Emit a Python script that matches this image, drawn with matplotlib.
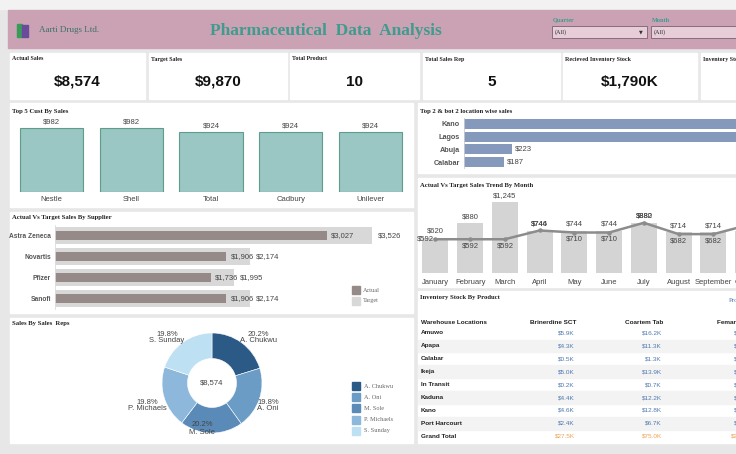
import matplotlib.pyplot as plt
from matplotlib.patches import Rectangle
import numpy as np

# KPI cards
kpi_titles = ['Actual Sales', 'Target Sales', 'Total Product', 'Total Sales Rep',
              'Recieved Inventory Stock', 'Inventory Stock']
kpi_values = ['$8,574', '$9,870', '10', '5', '$1,790K', '']

# Top 5 customers
cust_names = ['Nestle', 'Shell', 'Total', 'Cadbury', 'Unilever']
cust_sales = [982, 982, 924, 924, 924]

# Top 2 & bottom 2 locations
loc_names = ['Kano', 'Lagos', 'Abuja', 'Calabar']
loc_sales = [1540, 1520, 223, 187]

# Supplier actual vs target
suppliers = ['Astra Zeneca', 'Novartis', 'Pfizer', 'Sanofi']
supp_actual = [3027, 1906, 1736, 1906]
supp_target = [3526, 2174, 1995, 2174]

# Monthly trend
months = ['January', 'February', 'March', 'April', 'May', 'June', 'July',
          'August', 'September', 'October', 'November', 'December']
month_bar = [620, 880, 1245, 744, 744, 744, 882, 714, 714, 744, 714, 744]
month_line = [592, 592, 592, 746, 710, 710, 880, 682, 682, 842, 682, 710]

# Sales reps
reps = ['A. Chukwu', 'A. Oni', 'M. Sole', 'P. Michaels', 'S. Sunday']
rep_sales = [1735, 1701, 1736, 1701, 1701]
rep_colors = ['#2c5a86', '#6a9cc6', '#5a8ab7', '#8db8dc', '#bde0f2']

# Inventory table ($K)
warehouses = ['Amuwo', 'Apapa', 'Calabar', 'Ikeja', 'In Transit', 'Kaduna', 'Kano', 'Port Harcourt']
products = ['Brinerdine SCT', 'Coartem Tab', 'Femara Tab']
brinerdine = [5.9, 4.3, 0.5, 5.0, 0.2, 4.4, 4.6, 2.4]
coartem = [16.2, 11.3, 1.3, 13.9, 0.7, 12.2, 12.8, 6.7]
femara = [7.5, 5.2, 0.6, 6.4, 0.3, 5.6, 5.9, 3.1]
grand_totals = [27.5, 75.0, 34.6]

W, H = 736, 454
fig = plt.figure(figsize=(W / 100, H / 100), dpi=100, facecolor='#e7e7e7')

SERIF = 'Liberation Serif'
SANS = 'Liberation Sans'
NARROW = ['Liberation Sans Narrow', 'Liberation Sans']


def box(x0, y0, x1, y1):
    return [x0 / W, 1 - y1 / H, (x1 - x0) / W, (y1 - y0) / H]


def rect(x0, y0, x1, y1, **kw):
    fig.add_artist(Rectangle((x0 / W, 1 - y1 / H), (x1 - x0) / W, (y1 - y0) / H,
                             transform=fig.transFigure, **kw))


def txt(x, y, s, **kw):
    fig.text(x / W, 1 - y / H, s, **kw)


def clean(ax):
    ax.set_facecolor('none')
    for sp in ax.spines.values():
        sp.set_visible(False)


# header
rect(0, 0, W, 9, color='#f2f2f2', zorder=0)
rect(8, 10, W, 48, color='#caa2b4', zorder=0)
rect(17, 24, 22, 37, color='#3a9a5a', zorder=1)
for yy in (25, 29.5, 33.5):
    rect(22, yy, 28, yy + 3, color='#6a4a9a', zorder=1)
txt(39, 30.5, 'Aarti Drugs Ltd.', family=SERIF, fontsize=6.5, color='#3d6f6a', va='center')
txt(326, 31, 'Pharmaceutical  Data  Analysis', family=SERIF, fontsize=12.5, weight='bold',
    color='#3f9b8e', ha='center', va='center')
for x0, lab in [(552, 'Quarter'), (651, 'Month')]:
    txt(x0 + 1, 20, lab, family=SERIF, fontsize=4.5, weight='bold', color='#3f9b8e', va='center')
    rect(x0, 26, x0 + 95, 38, facecolor='#e6cdd8', edgecolor='#7a6070', lw=0.6, zorder=1)
    txt(x0 + 3, 32, '(All)', family=SERIF, fontsize=4.5, color='#333333', va='center')
    txt(x0 + 89, 32, '▼', fontsize=3.5, color='#333333', va='center', ha='center')

# KPI cards
card_x = [(10, 145), (149, 287), (290, 419), (423, 560), (563, 697), (701, 840)]
for (x0, x1), t, v in zip(card_x, kpi_titles, kpi_values):
    rect(x0, 53, x1, 99, color='white', zorder=0)
    txt(x0 + 2, 59, t, family=SERIF, fontsize=4.3, weight='bold', color='#222222', va='center')
    txt((x0 + x1) / 2, 82, v, family=NARROW, fontsize=11, weight='bold', color='#111111',
        ha='center', va='center')

# panel backgrounds
for b in [(10, 103, 413, 207), (418, 103, W, 173), (418, 178, W, 287),
          (10, 212, 413, 313), (10, 318, 413, 443), (418, 291, W, 443)]:
    rect(*b, color='white', zorder=0)

title_kw = dict(family=SERIF, fontsize=4.8, weight='bold', color='#222222', va='center')
txt(12, 111, 'Top 5 Cust By Sales', **title_kw)
txt(420, 111, 'Top 2 & bot 2 location wise sales', **title_kw)
txt(420, 185, 'Actual Vs Target Sales Trend By Month', **title_kw)
txt(12, 218, 'Actual Vs Target Sales By Supplier', **title_kw)
txt(12, 323, 'Sales By Sales  Reps', **title_kw)
txt(420, 297, 'Inventory Stock By Product', **title_kw)

lab_kw = dict(family=SANS, fontsize=5.5, color='#444444')

# Top 5 customers
ax = fig.add_axes(box(11.6, 118, 410.4, 192))
clean(ax)
bars = ax.bar(range(len(cust_names)), cust_sales, width=0.79, color='#9ac6c3',
              edgecolor='#5d9e8a', linewidth=0.8)
ax.bar_label(bars, labels=[f'${v:,}' for v in cust_sales], padding=1.5, **lab_kw)
ax.set_xlim(-0.5, 4.5)
ax.set_ylim(0, 1135)
ax.set_yticks([])
ax.set_xticks(range(len(cust_names)), cust_names)
ax.tick_params(axis='x', length=0, pad=3, labelsize=5.5, labelcolor='#444444')
for l in ax.get_xticklabels():
    l.set_family(SANS)

# Locations
ax = fig.add_axes(box(464, 117.6, 464 + 1600 * 0.215, 168.4))
clean(ax)
ax.spines['left'].set_visible(True)
ax.spines['left'].set_color('#cccccc')
ax.spines['left'].set_linewidth(0.6)
bars = ax.barh(range(len(loc_names)), loc_sales, height=0.78, color='#8499bb')
ax.bar_label(bars, labels=[f'${v:,}' for v in loc_sales], padding=2, **lab_kw)
ax.set_ylim(3.5, -0.5)
ax.set_xlim(0, 1600)
ax.set_xticks([])
ax.set_yticks(range(len(loc_names)), loc_names)
ax.tick_params(axis='y', length=0, pad=3, labelsize=5.2, labelcolor='#555555')
for l in ax.get_yticklabels():
    l.set_family(SANS)
    l.set_weight('bold')

# Monthly trend
ax = fig.add_axes(box(418, 195, 418 + 12 * 34.75, 273))
clean(ax)
x = np.arange(len(months))
ax.bar(x, month_bar, width=0.75, color='#d4d4d4')
ax.plot(x, month_line, color='#8c8c8c', lw=1.8, marker='o', ms=2.2, zorder=3)
for i, (b, l) in enumerate(zip(month_bar, month_line)):
    ax.annotate(f'${b:,}', (i, b), xytext=(0, 2), textcoords='offset points',
                ha='center', va='bottom', **lab_kw)
    if i == 0:
        ax.annotate(f'${l:,}', (i, l), xytext=(-1, 0), textcoords='offset points',
                    ha='right', va='center', **lab_kw)
    elif l >= b - 5:
        ax.annotate(f'${l:,}', (i, b), xytext=(0, 2), textcoords='offset points',
                    ha='center', va='bottom', **lab_kw)
    else:
        ax.annotate(f'${l:,}', (i, l), xytext=(0, -2.5), textcoords='offset points',
                    ha='center', va='top', **lab_kw)
ax.set_xlim(-0.5, 11.5)
ax.set_ylim(0, 1368)
ax.set_yticks([])
ax.set_xticks(x, months)
ax.tick_params(axis='x', length=0, pad=4, labelsize=5.5, labelcolor='#444444')
for l in ax.get_xticklabels():
    l.set_family(SANS)

# Supplier actual vs target
ax = fig.add_axes(box(55, 225, 55 + 3950 * 0.0899, 309))
clean(ax)
ax.spines['left'].set_visible(True)
ax.spines['left'].set_color('#dddddd')
ax.spines['left'].set_linewidth(0.6)
y = np.arange(len(suppliers))
tb = ax.barh(y, supp_target, height=0.81, color='#d8d8d8', label='Target')
ab = ax.barh(y, supp_actual, height=0.47, color='#958a87', label='Actual')
ax.bar_label(ab, labels=[f'${v:,}' for v in supp_actual], padding=3, **lab_kw)
ax.bar_label(tb, labels=[f'${v:,}' for v in supp_target], padding=4, **lab_kw)
ax.set_ylim(3.5, -0.5)
ax.set_xlim(0, 3950)
ax.set_xticks([])
ax.set_yticks(y, suppliers)
ax.tick_params(axis='y', length=0, pad=3, labelsize=4.8, labelcolor='#555555')
for l in ax.get_yticklabels():
    l.set_family(SANS)
    l.set_weight('bold')
for yy, c, lab in [(290, '#958a87', 'Actual'), (300.5, '#d8d8d8', 'Target')]:
    rect(352, yy - 4, 360, yy + 4, color=c, zorder=1)
    txt(363, yy, lab, family=SERIF, fontsize=4.5, color='#666666', va='center')

# Sales reps donut
ax = fig.add_axes(box(162, 333, 262, 433))
wedges, _ = ax.pie(rep_sales, colors=rep_colors, startangle=90, counterclock=False,
                   radius=1, wedgeprops=dict(width=0.51, edgecolor='white', linewidth=0.4))
ax.set_xlim(-1, 1)
ax.set_ylim(-1, 1)
ax.set_aspect('equal')
total = sum(rep_sales)
label_pos = [(0.92, 0.91), (1.12, -0.45), (-0.2, -0.91), (-1.29, -0.45), (-0.9, 0.91)]
for (lx, ly), name, v in zip(label_pos, reps, rep_sales):
    ax.text(lx, ly, f'{v / total * 100:.1f}%\n{name}',
            ha='center', va='center', linespacing=1.0, **lab_kw)
ax.text(0, 0, f'${total:,}', ha='center', va='center', **lab_kw)
for i, (name, c) in enumerate(zip(reps, rep_colors)):
    yy = 386 + i * 11.2
    rect(352, yy - 4, 360, yy + 4, color=c, zorder=1)
    txt(364, yy, name, family=SERIF, fontsize=4.5, color='#666666', va='center')

# Inventory table
txt(729, 300, 'Product', family=SERIF, fontsize=5, color='#4d79b0', va='center')
row_y = [333 + i * 12.9 for i in range(len(warehouses) + 1)]
for i, yy in enumerate(row_y[:-1]):
    if i % 2 == 1:
        rect(418, yy - 6.4, W, yy + 6.4, color='#f3f3f3', zorder=0)
col_x = [576, 663, 752]
hdr_kw = dict(family=SANS, fontsize=4.6, weight='bold', color='#222222', va='center')
txt(421, 322, 'Warehouse Locations', **hdr_kw)
for cx, p in zip(col_x, products):
    txt(cx, 322, p, ha='right', **hdr_kw)
for i, wname in enumerate(warehouses):
    txt(421, row_y[i], wname, **hdr_kw)
    for cx, col in zip(col_x, [brinerdine, coartem, femara]):
        txt(cx - 1, row_y[i], f'${col[i]:.1f}K', family=SANS, fontsize=4.6,
            color='#4d79b0', ha='right', va='center')
txt(421, row_y[-1], 'Grand Total', **hdr_kw)
for cx, g in zip(col_x, grand_totals):
    txt(cx - 1, row_y[-1], f'${g:.1f}K', family=SANS, fontsize=4.6,
        color='#f0a050', ha='right', va='center')

fig.savefig('out.png', dpi=100)
